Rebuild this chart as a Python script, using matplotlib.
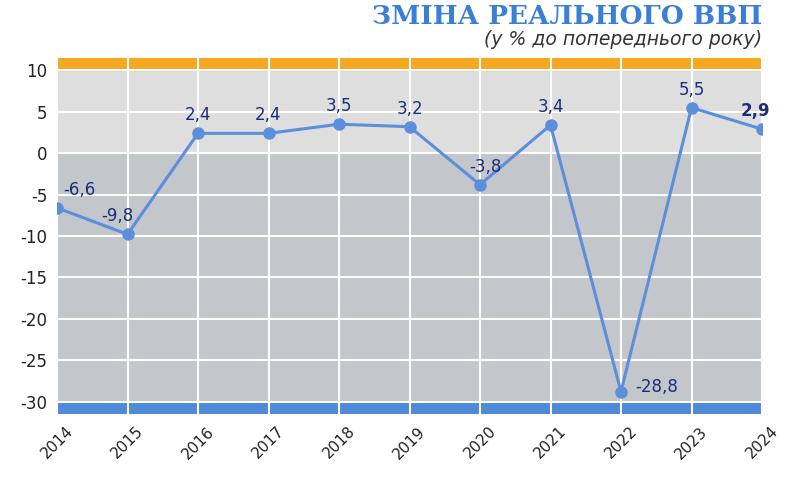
import numpy as np
import matplotlib
matplotlib.use("Agg")
import matplotlib.pyplot as plt

years = [2014, 2015, 2016, 2017, 2018, 2019, 2020, 2021, 2022, 2023, 2024]
gdp = [-6.6, -9.8, 2.4, 2.4, 3.5, 3.2, -3.8, 3.4, -28.8, 5.5, 2.9]
labels = ["-6,6", "-9,8", "2,4", "2,4", "3,5", "3,2", "-3,8", "3,4", "-28,8", "5,5", "2,9"]
yticks = [10, 5, 0, -5, -10, -15, -20, -25, -30]

# label offsets in points (dx, dy)
offs = [(16, 13), (-7, 13), (0, 13), (0, 13), (0, 13), (0, 13),
        (4, 13), (0, 13), (26, 3), (0, 13), (-5, 13)]

fig = plt.figure(figsize=(8, 4.8), dpi=100)
ax = fig.add_axes([0.07125, 0.1375, 0.88125, 0.7417])

ymin, ymax = -31.5, 11.5
ax.axhspan(0, 10, color="#dededf", zorder=0)
ax.axhspan(-30, 0, color="#c3c6ca", zorder=0)
ax.axhspan(10, ymax, color="#f7a823", zorder=0)
ax.axhspan(ymin, -30, color="#4f8ad8", zorder=0)

for y in yticks:
    ax.axhline(y, color="white", lw=1.5, zorder=1)
for x in years:
    ax.axvline(x, color="white", lw=1.5, zorder=1)

ax.plot(years, gdp, color="#5b8fdc", lw=2.2, marker="o", ms=8, zorder=3)

for x, y, s, (dx, dy) in zip(years, gdp, labels, offs):
    ax.annotate(s, (x, y), xytext=(dx, dy), textcoords="offset points",
                ha="center", va="center", fontsize=12, color="#1a2f7a",
                fontweight="bold" if x == 2024 else "medium", zorder=4)

ax.set_xlim(years[0], years[-1])
ax.set_ylim(ymin, ymax)
ax.set_yticks(yticks)
ax.set_yticklabels([str(v) for v in yticks], fontsize=12, color="#222222")
ax.set_xticks(years)
ax.set_xticklabels([str(v) for v in years], rotation=45, ha="center",
                   va="top", fontsize=11, color="#222222")
ax.tick_params(length=0, pad=7)
for sp in ax.spines.values():
    sp.set_visible(False)

fig.text(0.9525, 0.966, "ЗМІНА РЕАЛЬНОГО ВВП", ha="right", va="center",
         fontsize=19, fontweight="bold", color="#3a7fd6", family="DejaVu Serif")
fig.text(0.9525, 0.918, "(у % до попереднього року)", ha="right", va="center",
         fontsize=13.5, style="italic", color="#333333")

fig.savefig("out.png", dpi=100)
